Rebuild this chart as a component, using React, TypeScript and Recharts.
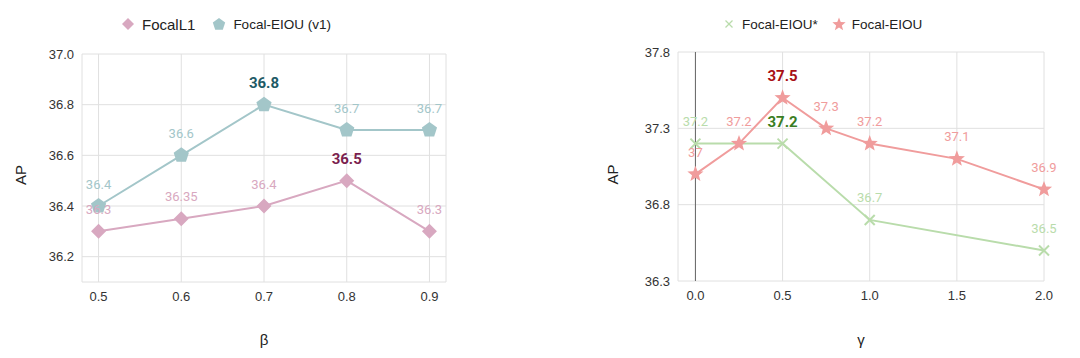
import React from 'react';
import { LineChart, Line, XAxis, YAxis, CartesianGrid, LabelList, Legend, ReferenceLine } from 'recharts';

// ---- Left chart data ----
const betaValues = [0.5, 0.6, 0.7, 0.8, 0.9];
const focalL1 = [36.3, 36.35, 36.4, 36.5, 36.3];
const focalEiouV1 = [36.4, 36.6, 36.8, 36.7, 36.7];
const leftYTicks = [36.2, 36.4, 36.6, 36.8, 37.0];

// ---- Right chart data ----
const gammaStar = [0, 0.5, 1.0, 2.0];
const focalEiouStar = [37.2, 37.2, 36.7, 36.5];
const gammaEiou = [0, 0.25, 0.5, 0.75, 1.0, 1.5, 2.0];
const focalEiou = [37.0, 37.2, 37.5, 37.3, 37.2, 37.1, 36.9];
const rightXTicks = [0, 0.5, 1.0, 1.5, 2.0];
const rightYTicks = [36.3, 36.8, 37.3, 37.8];

// index of the emphasised (bold) label in each series
const highlightL1 = 3;
const highlightEiouV1 = 2;
const highlightStar = 1;
const highlightEiou = 2;

const leftData = betaValues.map((b, i) => ({ x: b, l1: focalL1[i], eiou: focalEiouV1[i] }));
const starData = gammaStar.map((g, i) => ({ x: g, v: focalEiouStar[i] }));
const eiouData = gammaEiou.map((g, i) => ({ x: g, v: focalEiou[i] }));

const PINK = '#d8a8c0';
const PINK_DARK = '#7b1f4f';
const TEAL = '#a3c6c9';
const TEAL_DARK = '#1e5a66';
const RED = '#f09c9c';
const RED_DARK = '#a80f14';
const GREEN = '#b9dcab';
const GREEN_DARK = '#3a7d22';

const TICK_FONT = { fontFamily: '"Liberation Sans", Arial, sans-serif', fontSize: 13, fill: '#333' };

function diamondPath(cx: number, cy: number, r: number) {
  return `M${cx},${cy - r}L${cx + r},${cy}L${cx},${cy + r}L${cx - r},${cy}Z`;
}
function polyPath(cx: number, cy: number, r: number, n: number, inner?: number) {
  const pts: string[] = [];
  const count = inner ? n * 2 : n;
  for (let i = 0; i < count; i++) {
    const a = -Math.PI / 2 + (i * 2 * Math.PI) / count;
    const rr = inner ? (i % 2 === 0 ? r : inner) : r;
    pts.push(`${cx + rr * Math.cos(a)},${cy + rr * Math.sin(a)}`);
  }
  return 'M' + pts.join('L') + 'Z';
}

const makeDot = (kind: string, color: string) => (props: any) => {
  const { cx, cy, index } = props;
  const key = `${kind}-${index}`;
  if (cx == null || cy == null) return <g key={key} />;
  if (kind === 'diamond') return <path key={key} d={diamondPath(cx, cy, 7.5)} fill={color} />;
  if (kind === 'pentagon') return <path key={key} d={polyPath(cx, cy, 8, 5)} fill={color} />;
  if (kind === 'star') return <path key={key} d={polyPath(cx, cy, 8.5, 5, 3.6)} fill={color} />;
  return (
    <g key={key} stroke={color} strokeWidth={2}>
      <line x1={cx - 5} y1={cy - 5} x2={cx + 5} y2={cy + 5} />
      <line x1={cx - 5} y1={cy + 5} x2={cx + 5} y2={cy - 5} />
    </g>
  );
};

const makeLabel = (hi: number, color: string, dark: string) => (props: any) => {
  const { x, y, value, index } = props;
  const isMax = index === hi;
  return (
    <text
      key={`lbl-${index}`}
      x={x}
      y={y - 22}
      textAnchor="middle"
      dominantBaseline="central"
      fontFamily="Roboto, sans-serif"
      fontSize={isMax ? 15 : 13}
      fontWeight={isMax ? 700 : 400}
      fill={isMax ? dark : color}
    >
      {String(value)}
    </text>
  );
};

const apLabel = (cxOffset: number, cyOffset: number) => (props: any) => {
  const vb = props.viewBox || {};
  const x = vb.x + cxOffset;
  const y = vb.y + vb.height / 2 + cyOffset;
  return (
    <text
      x={x}
      y={y}
      transform={`rotate(-90, ${x}, ${y})`}
      textAnchor="middle"
      dominantBaseline="central"
      fontFamily='"Liberation Sans", Arial, sans-serif'
      fontSize={15}
      fill="#222"
    >
      AP
    </text>
  );
};

const LeftLegend = () => (
  <div style={{ display: 'flex', alignItems: 'center', paddingLeft: 120, fontFamily: '"Liberation Sans", Arial, sans-serif', color: '#222', height: 20 }}>
    <svg width={16} height={16}><path d={diamondPath(8, 8, 6)} fill={PINK} /></svg>
    <span style={{ fontSize: 15, marginLeft: 6 }}>FocalL1</span>
    <svg width={16} height={16} style={{ marginLeft: 16 }}><path d={polyPath(8, 8.5, 6.5, 5)} fill={TEAL} /></svg>
    <span style={{ fontSize: 13.5, marginLeft: 6 }}>Focal-EIOU (v1)</span>
  </div>
);

const RightLegend = () => (
  <div style={{ display: 'flex', alignItems: 'center', paddingLeft: 182, fontFamily: '"Liberation Sans", Arial, sans-serif', color: '#222', height: 20 }}>
    <svg width={14} height={14}>
      <g stroke={GREEN} strokeWidth={1.3}>
        <line x1={3.5} y1={3.5} x2={10.5} y2={10.5} />
        <line x1={3.5} y1={10.5} x2={10.5} y2={3.5} />
      </g>
    </svg>
    <span style={{ fontSize: 13.5, marginLeft: 6 }}>Focal-EIOU*</span>
    <svg width={14} height={14} style={{ marginLeft: 14 }}><path d={polyPath(7, 7.5, 7, 5, 3)} fill={RED} /></svg>
    <span style={{ fontSize: 13.5, marginLeft: 6 }}>Focal-EIOU</span>
  </div>
);

export default function App() {
  return (
    <div style={{ position: 'absolute', left: 0, top: 0, width: 1080, height: 358, display: 'flex', background: '#fff' }}>
      <LineChart width={540} height={358} data={leftData} margin={{ top: 34, right: 94, bottom: 0, left: 0 }}>
        <CartesianGrid stroke="#e0e0e0" strokeWidth={1} />
        <XAxis
          dataKey="x"
          type="number"
          domain={[0.48, 0.92]}
          ticks={betaValues}
          tickFormatter={(v: number) => v.toFixed(1)}
          axisLine={false}
          tickLine={false}
          tick={TICK_FONT}
          tickMargin={4}
          height={76}
          label={{ value: 'β', position: 'insideBottom', offset: 13, style: { fontFamily: '"Liberation Sans", Arial, sans-serif', fontSize: 15, fill: '#222' } }}
        />
        <YAxis
          type="number"
          domain={[36.1, 37.0]}
          ticks={leftYTicks}
          tickFormatter={(v: number) => v.toFixed(1)}
          axisLine={false}
          tickLine={false}
          tick={TICK_FONT}
          width={82}
          label={{ content: apLabel(20, 7) } as any}
        />
        <Legend verticalAlign="top" align="left" content={LeftLegend as any} wrapperStyle={{ top: 14, left: 0, width: 540 }} />
        <Line dataKey="l1" name="FocalL1" stroke={PINK} strokeWidth={2} dot={makeDot('diamond', PINK)} activeDot={false} isAnimationActive={false}>
          <LabelList dataKey="l1" content={makeLabel(highlightL1, PINK, PINK_DARK)} />
        </Line>
        <Line dataKey="eiou" name="Focal-EIOU (v1)" stroke={TEAL} strokeWidth={2} dot={makeDot('pentagon', TEAL)} activeDot={false} isAnimationActive={false}>
          <LabelList dataKey="eiou" content={makeLabel(highlightEiouV1, TEAL, TEAL_DARK)} />
        </Line>
      </LineChart>
      <LineChart width={540} height={358} margin={{ top: 32, right: 36, bottom: 0, left: 0 }}>
        <CartesianGrid stroke="#e0e0e0" strokeWidth={1} />
        <XAxis
          dataKey="x"
          type="number"
          domain={[-0.1, 2.0]}
          ticks={rightXTicks}
          tickFormatter={(v: number) => v.toFixed(1)}
          axisLine={false}
          tickLine={false}
          tick={TICK_FONT}
          tickMargin={4}
          height={77}
          allowDuplicatedCategory={false}
          label={{ value: 'γ', position: 'insideBottom', offset: 13, style: { fontFamily: '"Liberation Sans", Arial, sans-serif', fontSize: 15, fill: '#222' } }}
        />
        <YAxis
          type="number"
          domain={[36.3, 37.8]}
          ticks={rightYTicks}
          tickFormatter={(v: number) => v.toFixed(1)}
          axisLine={false}
          tickLine={false}
          tick={TICK_FONT}
          width={138}
          label={{ content: apLabel(72, 8) } as any}
        />
        <ReferenceLine x={0} stroke="#666" strokeWidth={1} />
        <Legend verticalAlign="top" align="left" content={RightLegend as any} wrapperStyle={{ top: 14, left: 0, width: 540 }} />
        <Line data={starData} dataKey="v" name="Focal-EIOU*" stroke={GREEN} strokeWidth={2} dot={makeDot('x', GREEN)} activeDot={false} isAnimationActive={false}>
          <LabelList dataKey="v" content={makeLabel(highlightStar, GREEN, GREEN_DARK)} />
        </Line>
        <Line data={eiouData} dataKey="v" name="Focal-EIOU" stroke={RED} strokeWidth={2} dot={makeDot('star', RED)} activeDot={false} isAnimationActive={false}>
          <LabelList dataKey="v" content={makeLabel(highlightEiou, RED, RED_DARK)} />
        </Line>
      </LineChart>
    </div>
  );
}
